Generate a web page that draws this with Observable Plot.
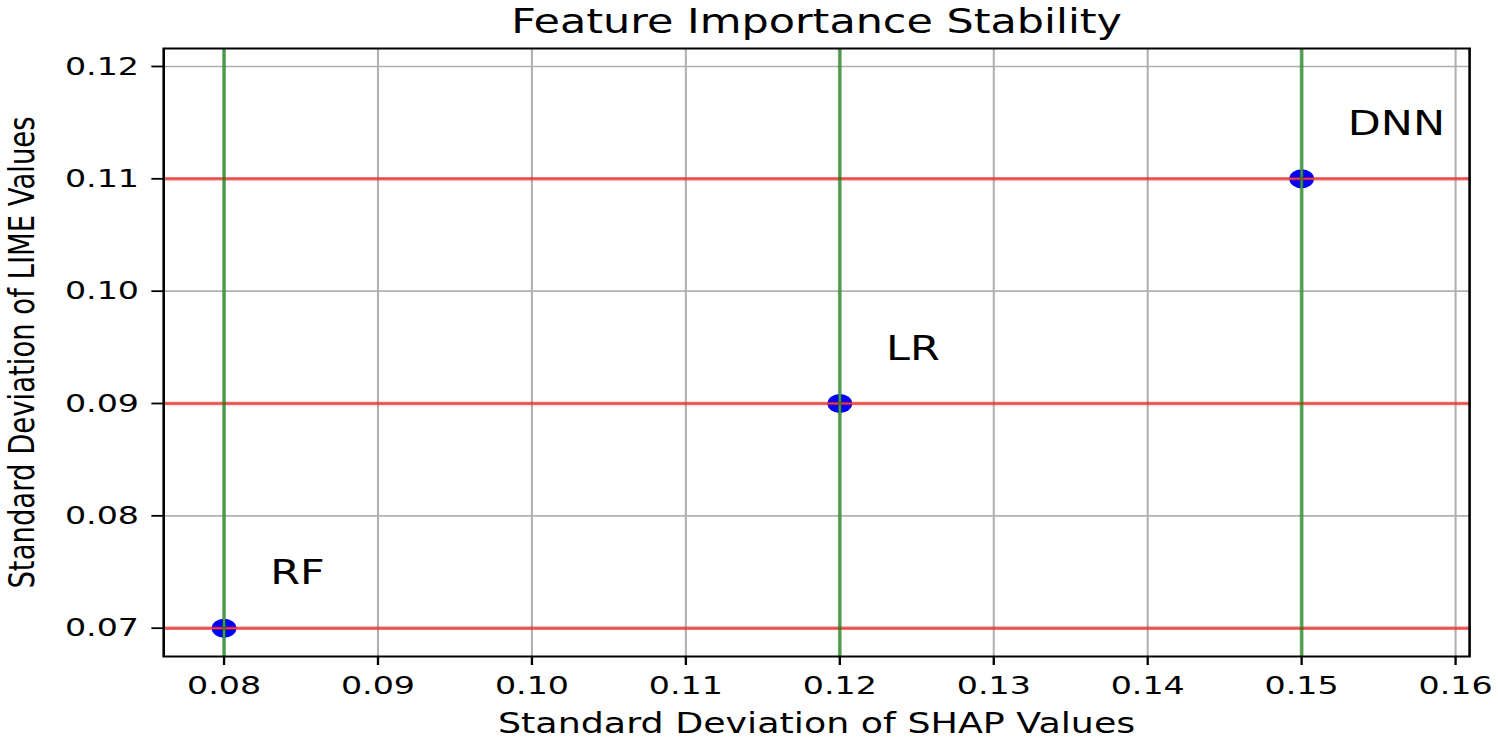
<!DOCTYPE html>
<html>
<head>
<meta charset="utf-8">
<script src="https://cdn.jsdelivr.net/npm/d3@7"></script>
<script src="https://cdn.jsdelivr.net/npm/@observablehq/plot@0.6"></script>
<style>
  html, body { margin: 0; padding: 0; background: white; overflow: hidden; }
</style>
</head>
<body>
<div id="chart"></div>
<script>
// ---- data ----
const models = ["RF", "LR", "DNN"];
const shapStd = [0.08, 0.12, 0.15];
const limeStd = [0.07, 0.09, 0.11];
const xTicks = [0.08, 0.09, 0.10, 0.11, 0.12, 0.13, 0.14, 0.15, 0.16];
const yTicks = [0.07, 0.08, 0.09, 0.10, 0.11, 0.12];
const titleText = "Feature Importance Stability";
const xLabel = "Standard Deviation of SHAP Values";
const yLabel = "Standard Deviation of LIME Values";

const rows = models.map((m, i) => ({model: m, shap: shapStd[i], lime: limeStd[i]}));

// chart is drawn in a narrower coordinate space and stretched horizontally,
// as the reference image is
const stretch = 1.3003;
const W = 1152, H = 738;

const chart = Plot.plot({
  width: W,
  height: H,
  marginLeft: 125.4,
  marginRight: 22.3,
  marginTop: 48,
  marginBottom: 82,
  x: {domain: [0.07608, 0.16091]},
  y: {domain: [0.06748, 0.1216]},
  style: {background: "white", fontFamily: "DejaVu Sans", color: "black"},
  marks: [
    Plot.dot(rows, {x: "shap", y: "lime", r: 9.5, fill: "blue", stroke: "none"}),
    Plot.ruleX(xTicks, {stroke: "#b0b0b0", strokeWidth: 1.6}),
    Plot.ruleY(yTicks, {stroke: "#b0b0b0", strokeWidth: 1.6}),
    Plot.ruleY(limeStd, {stroke: "red", strokeOpacity: 0.55, strokeWidth: 3.4}),
    Plot.ruleX(shapStd, {stroke: "green", strokeOpacity: 0.55, strokeWidth: 3.0}),
    Plot.frame({stroke: "black", strokeWidth: 2}),
    Plot.axisX(xTicks, {tickFormat: d3.format(".2f"), tickSize: 9, tickPadding: 10, fontSize: 25.6, strokeWidth: 1.8, label: null, color: "black"}),
    Plot.axisY(yTicks, {tickFormat: d3.format(".2f"), tickSize: 9, tickPadding: 10, fontSize: 25.6, strokeWidth: 1.8, label: null, color: "black"}),
    Plot.text(rows, {x: "shap", y: "lime", text: "model", dx: 35.5, dy: -44, textAnchor: "start", lineAnchor: "bottom", fontSize: 33, fill: "black"}),
    Plot.text([titleText], {text: d => d, frameAnchor: "top", textAnchor: "middle", lineAnchor: "bottom", dy: -16, fontSize: 33, fill: "black"}),
    Plot.text([xLabel], {text: d => d, frameAnchor: "bottom", textAnchor: "middle", lineAnchor: "bottom", dy: 76, fontSize: 28, fill: "black"}),
    Plot.text([yLabel], {text: d => d, frameAnchor: "left", textAnchor: "middle", lineAnchor: "bottom", rotate: -90, dx: -100, fontSize: 27.5, fill: "black"})
  ]
});

chart.setAttribute("preserveAspectRatio", "none");
chart.style.width = (W * stretch) + "px";
chart.style.height = H + "px";
chart.style.maxWidth = "none";
chart.style.display = "block";
document.getElementById("chart").appendChild(chart);
</script>
</body>
</html>
